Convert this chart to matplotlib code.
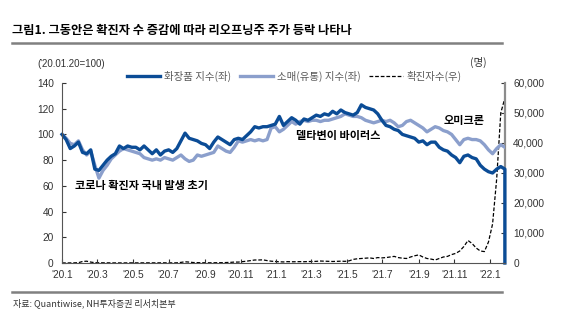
import numpy as np
import pandas as pd
import matplotlib
matplotlib.use("Agg")
import matplotlib.pyplot as plt

plt.rcParams['font.family'] = ['Liberation Sans Narrow', 'Liberation Sans', 'Noto Sans CJK KR']
KR = ['Noto Sans CJK KR', 'DejaVu Sans']

# 주간 데이터 ('20.01.20 = 100)
dates = pd.date_range('2020-01-20', periods=109, freq='7D')

cosmetics = [100, 96, 89, 91, 94, 86, 85, 88, 73, 72,
             76, 80, 83, 85, 91, 89, 91, 90, 90, 88,
             91, 88, 85, 88, 84, 87, 88, 86, 89, 95,
             101, 97, 96, 95, 93, 92, 89, 94, 98, 96,
             94, 92, 96, 97, 96, 99, 102, 106, 105, 106,
             106, 107, 108, 114, 107, 110, 113, 111, 108, 112,
             111, 113, 115, 114, 116, 115, 118, 116, 119, 117,
             116, 115, 117, 123, 121, 120, 119, 116, 111, 107,
             106, 104, 103, 100, 99, 98, 97, 94, 95, 92,
             94, 94, 90, 88, 87, 84, 82, 78, 83, 84,
             82, 81, 76, 73, 71, 70, 73, 75, 73]

retail = [100, 97, 93, 92, 95, 88, 84, 87, 76, 66,
          72, 76, 81, 84, 87, 89, 88, 87, 86, 85,
          82, 81, 80, 81, 80, 82, 81, 80, 82, 84,
          81, 79, 80, 84, 83, 84, 85, 86, 91, 89,
          87, 86, 90, 95, 94, 95, 96, 95, 96, 95,
          96, 105, 106, 102, 104, 107, 110, 108, 110, 111,
          110, 111, 111, 110, 111, 111, 112, 113, 114, 116,
          115, 114, 114, 113, 111, 110, 109, 110, 111, 110,
          111, 109, 106, 107, 110, 111, 109, 107, 105, 102,
          104, 106, 105, 103, 102, 100, 96, 92, 96, 97,
          96, 96, 95, 92, 88, 85, 89, 92, 90]

cases = [10, 20, 30, 50, 100, 500, 600, 300, 100, 80,
         60, 50, 40, 30, 30, 30, 40, 40, 40, 50,
         40, 50, 50, 50, 50, 60, 50, 40, 60, 200,
         400, 300, 150, 120, 80, 80, 70, 80, 100, 100,
         150, 200, 300, 300, 450, 600, 800, 1000, 1000, 1050,
         800, 600, 500, 400, 350, 450, 400, 420, 450, 420,
         480, 500, 550, 650, 600, 550, 500, 550, 600, 550,
         700, 1200, 1400, 1500, 1600, 1700, 1500, 1800, 1700, 1800,
         2000, 2200, 1800, 1600, 1500, 2000, 2400, 2700, 2000, 1500,
         1300, 1000, 1500, 2000, 2200, 2800, 3200, 4000, 5500, 7500,
         6500, 5000, 4000, 3800, 7000, 13000, 28000, 50000, 55000]

# 마지막 값은 0으로 떨어짐
cos_x = list(dates) + [dates[-1]]
cos_y = cosmetics + [0]

tick_dates = pd.date_range('2020-01-20', periods=13, freq=pd.DateOffset(months=2))
tick_labels = ["'20.1", "'20.3", "'20.5", "'20.7", "'20.9", "'20.11", "'21.1",
               "'21.3", "'21.5", "'21.7", "'21.9", "'21.11", "'22.1"]

dark_blue = '#0b4c96'
light_blue = '#8b9fcc'

fig = plt.figure(figsize=(5.77, 3.36), dpi=100)
ax = fig.add_axes([0.1075, 0.2173, 0.7675, 0.5357])
ax2 = ax.twinx()
# 지수 선을 확진자 선과 오른쪽 축선 위에 그림
ax.set_zorder(ax2.get_zorder() + 1)
ax.patch.set_visible(False)

ax.plot(dates, retail, color=light_blue, lw=2.4, label='소매(유통) 지수(좌)')
ax.plot(cos_x, cos_y, color=dark_blue, lw=2.4, label='화장품 지수(좌)', clip_on=False)
ax2.plot(dates, cases, color='black', lw=0.9, ls=(0, (3, 1.5)), label='확진자수(우)')

ax.set_ylim(0, 140)
ax.set_yticks(range(0, 141, 20))
ax2.set_ylim(0, 60000)
ax2.set_yticks(range(0, 60001, 10000))
ax2.set_yticklabels([f'{v:,}' for v in range(0, 60001, 10000)])
ax.set_xlim(dates[0], dates[-1])
ax.set_xticks(tick_dates)
ax.set_xticklabels(tick_labels)

for a in (ax, ax2):
    a.spines['top'].set_visible(False)
    a.tick_params(direction='in', length=3, labelsize=7.3, colors='#333333', width=0.8)
ax.tick_params(axis='x', pad=5)
ax.tick_params(axis='y', pad=6)
ax2.tick_params(axis='y', pad=6)
ax.spines['right'].set_visible(False)
ax.spines['left'].set_color('#555555')
ax.spines['bottom'].set_color('#555555')
ax2.spines['left'].set_visible(False)
ax2.spines['bottom'].set_visible(False)
ax2.spines['right'].set_color('#8c8c8c')
ax2.spines['right'].set_linewidth(1.6)

# 범례
h1, l1 = ax.get_legend_handles_labels()
h2, l2 = ax2.get_legend_handles_labels()
handles = [h1[1], h1[0], h2[0]]
labels = [l1[1], l1[0], l2[0]]
fig.legend(handles, labels, loc='center', bbox_to_anchor=(0.51, 0.774), ncol=3,
           frameon=False, handlelength=3.2, handletextpad=0.4, columnspacing=0.8,
           prop={'family': KR, 'size': 7.5}, labelcolor='#595959')

# 주석
ax.text(0.029, 0.433, '코로나 확진자 국내 발생 초기', transform=ax.transAxes,
        family=KR, fontsize=8, fontweight='bold', va='center')
ax.text(0.528, 0.711, '델타변이 바이러스', transform=ax.transAxes,
        family=KR, fontsize=8, fontweight='bold', va='center')
ax.text(0.862, 0.794, '오미크론', transform=ax.transAxes,
        family=KR, fontsize=8, fontweight='bold', va='center')

# 제목, 단위, 출처
fig.text(0.021, 0.91, '그림1. 그동안은 확진자 수 증감에 따라 리오프닝주 주가 등락 나타나',
         family=KR, fontsize=8.8, fontweight='bold', va='center')
fig.add_artist(plt.Line2D([0.021, 0.870], [0.872, 0.872], color='#808080', lw=1.8))
fig.add_artist(plt.Line2D([0.021, 0.870], [0.131, 0.131], color='#808080', lw=1.8))
fig.text(0.064, 0.81, "('20.01.20=100)", fontsize=7, color='#333333', va='center')
fig.text(0.815, 0.815, '(명)', family=KR, fontsize=7.5, color='#333333', va='center')
fig.text(0.022, 0.098, '자료: Quantiwise, NH투자증권 리서치본부', family=KR,
         fontsize=6.5, color='#333333', va='center')

fig.savefig('out.png', dpi=100)
